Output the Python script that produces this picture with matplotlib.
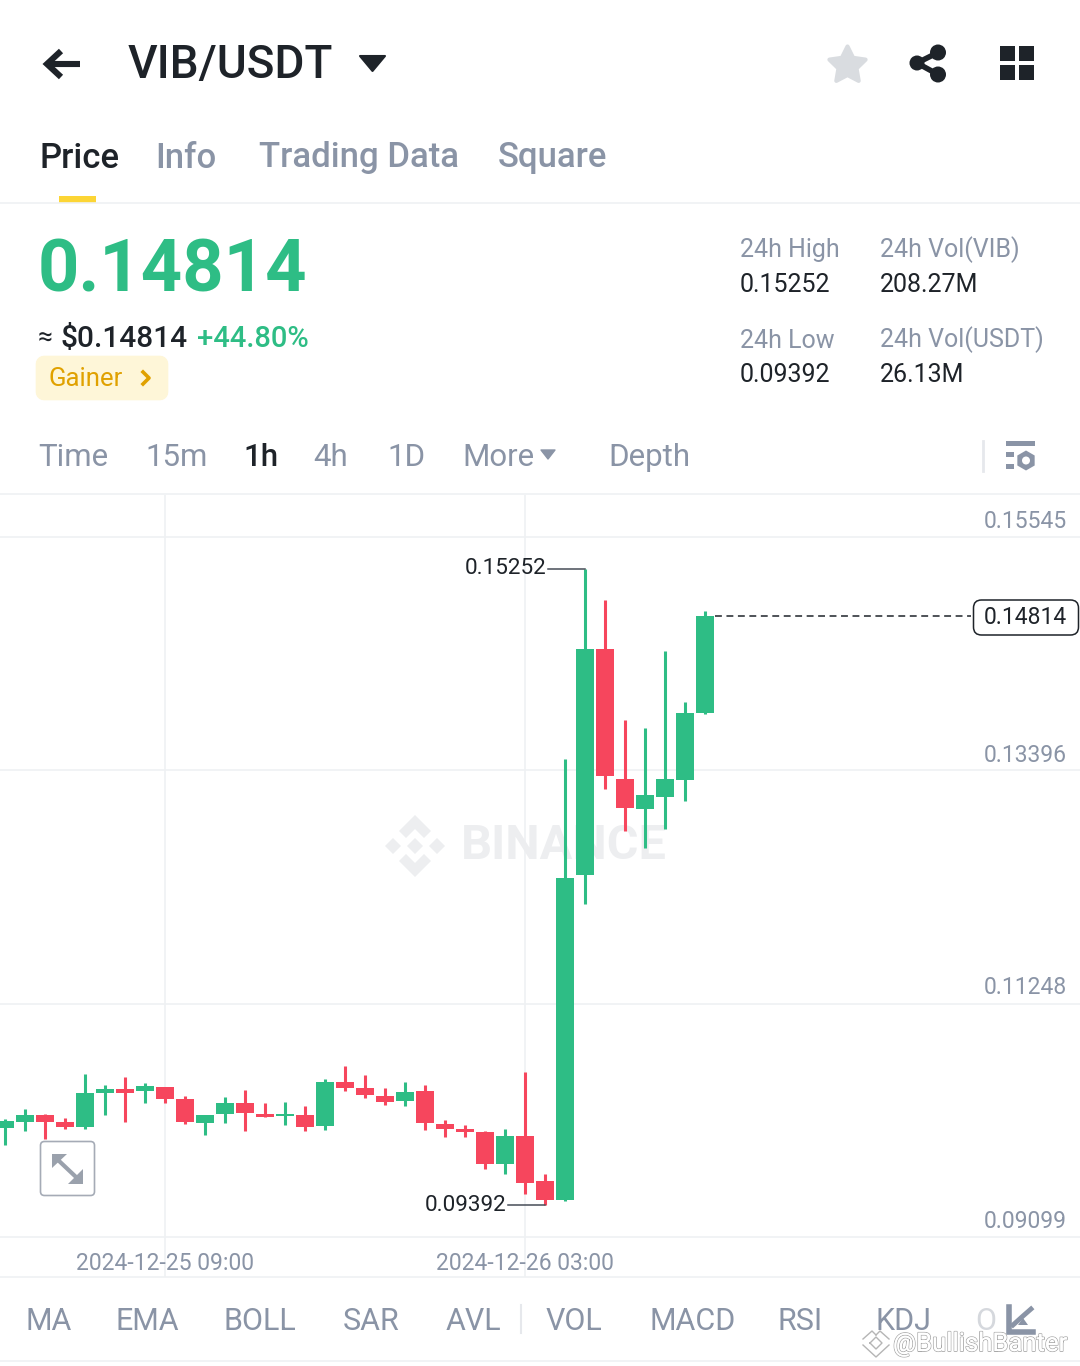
import matplotlib
matplotlib.use("Agg")
import matplotlib.pyplot as plt
import matplotlib.patheffects as pe
from matplotlib.patches import FancyBboxPatch, Polygon, Circle, Rectangle, RegularPolygon
import numpy as np

plt.rcParams['font.family'] = ['Roboto', 'DejaVu Sans']

# ---- data (1h candles, oldest first) ----
times = list(range(36))
opens = [.10105,.10160,.10225,.10157,.10114,.10424,.10461,.10443,.10480,.10366,.10148,.10229,
         .10330,.10231,.10210,.10222,.10119,.10526,.10473,.10400,.10348,.10440,.10142,.10096,
         .10068,.09773,.10031,.09611,.09436,.12435,.14516,.13319,.13043,.13148,.13307,.13927]
closes = [.10167,.10225,.10160,.10114,.10427,.10461,.10427,.10489,.10369,.10160,.10225,.10330,
          .10240,.10206,.10231,.10114,.10526,.10473,.10406,.10344,.10436,.10148,.10096,.10063,
          .09773,.10031,.09596,.09436,.12402,.14516,.13344,.13047,.13169,.13319,.13927,.14814]
highs = [.10182,.10280,.10231,.10191,.10597,.10498,.10575,.10514,.10480,.10397,.10225,.10385,
         .10449,.10330,.10339,.10305,.10551,.10673,.10587,.10471,.10523,.10498,.10174,.10128,
         .10077,.10091,.10615,.09676,.13498,.15252,.14965,.13860,.13783,.14495,.14023,.14861]
lows = [.09948,.10077,.09998,.10096,.10096,.10222,.10160,.10335,.10335,.10136,.10035,.10145,
        .10077,.10203,.10130,.10075,.10082,.10446,.10378,.10311,.10302,.10087,.10017,.10019,
        .09727,.09681,.09497,.09392,.09430,.12165,.13227,.12838,.12678,.12856,.13117,.13918]
price_ticks = [0.15545, 0.13396, 0.11248, 0.09099]
price_labels = ["0.15545", "0.13396", "0.11248", "0.09099"]
time_ticks = [8, 26]
time_labels = ["2024-12-25 09:00", "2024-12-26 03:00"]
tabs = ["Price", "Info", "Trading Data", "Square"]
intervals = ["Time", "15m", "1h", "4h", "1D", "More", "Depth"]
indicators = ["MA", "EMA", "BOLL", "SAR", "AVL", "VOL", "MACD", "RSI", "KDJ", "O"]

GREEN, RED = "#2EBD85", "#F6465D"
DARK, GREY, LINE = "#1E2329", "#8A94A6", "#EFF1F3"

W, H = 1080, 1366
fig = plt.figure(figsize=(W/100, H/100), dpi=100, facecolor="white")

# ---- price chart ----
top_px, bot_px = 495, 1277
ax = fig.add_axes([0, 1-bot_px/H, 1, (bot_px-top_px)/H])
k = (price_ticks[0]-price_ticks[-1])/(1237-537)
ax.set_ylim(price_ticks[-1]-(bot_px-1237)*k, price_ticks[0]+(537-top_px)*k)
ax.set_xlim(-0.25, 53.75)
ax.axis("off")
for t in price_ticks:
    ax.axhline(t, color=LINE, lw=1.2, zorder=1)
for t in time_ticks:
    ax.axvline(t, color=LINE, lw=1.2, zorder=1)
for t, o, c, h, l in zip(times, opens, closes, highs, lows):
    col = GREEN if c >= o else RED
    ax.plot([t, t], [l, h], color=col, lw=2.2, solid_capstyle="butt", zorder=3)
    ax.bar(t, abs(c-o), bottom=min(o, c), width=0.88, color=col, lw=0, zorder=3)

# high / low / last markers
ax.plot([27.1, 29, 29], [lows[27], lows[27], lows[27]], lw=0)
hi_i, lo_i = int(np.argmax(highs)), int(np.argmin(lows))
ax.plot([hi_i-1.85, hi_i], [highs[hi_i]]*2, color="#474D57", lw=1.1, zorder=4)
ax.text(hi_i-1.9, highs[hi_i], "0.15252", ha="right", va="center", fontsize=16.2, color=DARK, zorder=5)
ax.plot([lo_i-1.85, lo_i], [lows[lo_i]]*2, color="#474D57", lw=1.1, zorder=4)
ax.text(lo_i-1.9, lows[lo_i], "0.09392", ha="right", va="center", fontsize=16.2, color=DARK, zorder=5)
ax.plot([35.5, 48.3], [closes[-1]]*2, color=DARK, lw=1.1, dashes=(4.5, 3), zorder=4)

# ---- page furniture in pixel coordinates ----
ui = fig.add_axes([0, 0, 1, 1], facecolor="none")
ui.set_xlim(0, W); ui.set_ylim(H, 0); ui.axis("off")
def T(x, y, s, size, color=DARK, **kw):
    kw.setdefault("ha", "left"); kw.setdefault("va", "center")
    return ui.text(x, y, s, fontsize=size, color=color, **kw)

for y in (203, 494, 1277, 1361):
    ui.plot([0, W], [y, y], color=LINE, lw=1.2)

# header
ui.plot([48, 80], [64, 64], color=DARK, lw=4.4, solid_capstyle="butt")
ui.plot([61, 47, 61], [51, 64, 77], color=DARK, lw=4.4, solid_joinstyle="miter", solid_capstyle="butt")
T(128, 65, "VIB/USDT", 33, weight="medium")
ui.add_patch(Polygon([[360, 56], [385, 56], [372.5, 71]], closed=True, fc=DARK, ec=DARK, lw=1.5, joinstyle="round"))
# star
ang = np.deg2rad(np.arange(0, 360, 36) - 90)
rad = np.where(np.arange(10) % 2 == 0, 19, 9.5)
ui.add_patch(Polygon(np.c_[847.5+rad*np.cos(ang), 65.5+rad*np.sin(ang)], closed=True, fc="#D9DCE0", ec="#D9DCE0", lw=3, joinstyle="round"))
# share
for cx, cy, r in [(938, 52.5, 8), (917, 63, 7.5), (938, 74.5, 8)]:
    ui.add_patch(Circle((cx, cy), r, fc=DARK, ec="none"))
ui.plot([938, 917, 938], [52.5, 63, 74.5], color=DARK, lw=4)
# grid
for x0, y0 in [(1000, 46), (1019, 46), (1000, 65), (1019, 65)]:
    ui.add_patch(Rectangle((x0, y0), 15, 15, fc=DARK, ec="none"))

# tabs
for x, s, c in zip([39, 155, 259, 498], tabs, [DARK, GREY, GREY, GREY]):
    T(x, 158, s, 25, color=c, weight="medium")
ui.add_patch(Rectangle((59, 196), 37, 7, fc="#FCD535", ec="none"))

# price block
T(38, 272, "0.14814", 52, color=GREEN, weight="bold")
T(38, 339, "≈", 19, color=DARK)
T(61, 339, "$0.14814", 21.5, color=DARK, weight="medium")
T(197, 339, "+44.80%", 21, color=GREEN, weight="medium")
ui.add_patch(FancyBboxPatch((44, 364), 116, 28, boxstyle="round,pad=0,rounding_size=0", fc="#FEF6D8", ec="#FEF6D8", lw=12, joinstyle="round"))
T(48, 379, "Gainer", 18.5, color="#E0A100")
ui.plot([143, 149, 143], [372, 378, 384], color="#E0A100", lw=2.6)

for x, y, s, c in [(740, 250, "24h High", GREY), (740, 285.5, "0.15252", DARK),
                   (880, 250, "24h Vol(VIB)", GREY), (880, 284.5, "208.27M", DARK),
                   (740, 341, "24h Low", GREY), (740, 375.5, "0.09392", DARK),
                   (880, 340, "24h Vol(USDT)", GREY), (880, 374.5, "26.13M", DARK)]:
    T(x, y, s, 18, color=c)

# interval row
for x, s in zip([38, 145, 243, 313, 387, 462, 608], intervals):
    T(x, 458, s, 22.5, color=DARK if s == "1h" else GREY, weight="medium" if s == "1h" else "normal")
ui.add_patch(Polygon([[541, 450], [555, 450], [548, 459]], closed=True, fc=GREY, ec=GREY, lw=1, joinstyle="round"))
ui.plot([983, 983], [441, 471], color="#E6E8EC", lw=2)
ui.add_patch(Rectangle((1006, 441), 29, 4.5, fc=GREY, ec="none"))
ui.add_patch(Rectangle((1006, 452), 8, 4.5, fc=GREY, ec="none"))
ui.add_patch(Rectangle((1006, 464), 8, 4.5, fc=GREY, ec="none"))
ui.add_patch(RegularPolygon((1026, 460.5), 6, radius=10, fc=GREY, ec="none"))
ui.add_patch(Circle((1026, 460.5), 4, fc="white", ec="none"))

# watermark (behind candles)
wm = "#EDEEF0"
ax.text(22.8, price_ticks[1]-(846-770.5)*k, "BINANCE", fontsize=35, weight="bold", color=wm, va="center", ha="left", zorder=2)
for cx, cy, r in [(415, 846, 0)]:
    pass
for pts in ([[415, 815], [431, 831], [424, 838], [415, 829], [406, 838], [399, 831]],
            [[415, 877], [431, 861], [424, 854], [415, 863], [406, 854], [399, 861]],
            [[415, 838], [423, 846], [415, 854], [407, 846]],
            [[393, 838], [401, 846], [393, 854], [385, 846]],
            [[437, 838], [445, 846], [437, 854], [429, 846]]):
    p = Polygon(pts, closed=True, fc=wm, ec="none", zorder=0)
    ui.add_patch(p)

# right axis labels
for t, s, y in zip(price_ticks, price_labels, [522, 755, 988, 1222]):
    T(1067, y, s, 16.5, color=GREY, ha="right")
ui.add_patch(FancyBboxPatch((977, 600), 98, 35, boxstyle="round,pad=0,rounding_size=0", fc="white", ec="white", lw=1))
ui.add_patch(FancyBboxPatch((973.5, 600), 105, 35, boxstyle="round,pad=0,rounding_size=8", fc="white", ec=DARK, lw=1.1))
T(1067, 617.5, "0.14814", 16.5, color=DARK, ha="right")

# time axis
for t, s in zip(time_ticks, time_labels):
    T(5+20*t, 1263.5, s, 16.5, color=GREY, ha="center")

# expand button
ui.add_patch(FancyBboxPatch((40.5, 1141.5), 54, 54, boxstyle="round,pad=0,rounding_size=4", fc="white", ec="#A5ABB6", lw=1.2))
ui.plot([58, 76], [1160, 1177], color="#9AA1AC", lw=3)
ui.add_patch(Polygon([[52, 1154], [67, 1154], [52, 1168]], closed=True, fc="#9AA1AC", ec="none"))
ui.add_patch(Polygon([[83, 1184], [68, 1184], [83, 1169]], closed=True, fc="#9AA1AC", ec="none"))

# indicator row
for x, s in zip([25, 116, 224, 343, 446, 546, 649, 778, 875], indicators):
    T(x, 1322, s, 22, color=GREY)
ui.plot([521, 521], [1305, 1333], color="#E6E8EC", lw=1.5)
T(975, 1322, indicators[-1], 22, color="#D5D8DD")
ui.plot([1009, 1009, 1033], [1307, 1332, 1332], color=GREY, lw=4, solid_joinstyle="miter")
ui.plot([1013, 1023, 1031], [1325, 1316, 1309], color=GREY, lw=3.5)
ui.add_patch(Polygon([[1018, 1325], [1028, 1325], [1023, 1318]], closed=True, fc=GREY, ec="none"))

# credit watermark
t = T(893, 1344, "@BullishBanter", 18.5, color="white")
t.set_path_effects([pe.withStroke(linewidth=1.2, foreground="#A8A8A8"), pe.Normal()])
for pts in ([[863, 1339], [872, 1331], [876, 1335]], [[876, 1335], [880, 1331], [889, 1339]],
            [[863, 1345], [876, 1357], [889, 1345]], [[870, 1343], [876, 1337], [882, 1343], [876, 1349], [870, 1343]]):
    ui.plot(*zip(*pts), color="#B5B5B5", lw=1)

fig.savefig("out.png", dpi=100, facecolor="white")
